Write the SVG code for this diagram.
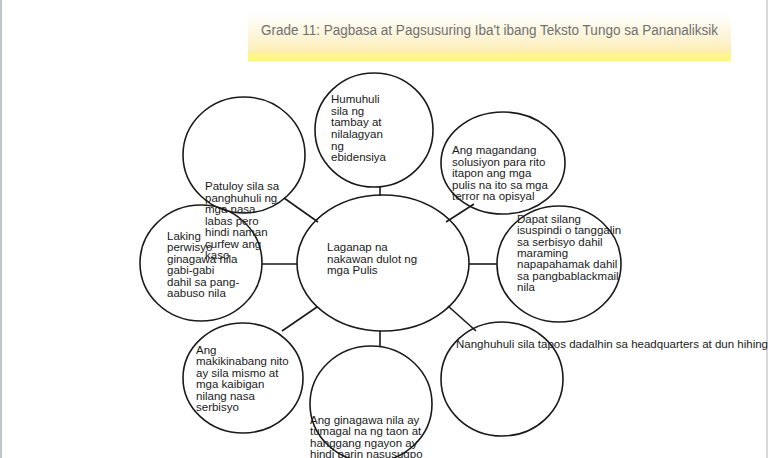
<svg xmlns="http://www.w3.org/2000/svg" width="768" height="458" viewBox="0 0 768 458">
<defs>
<linearGradient id="banner" x1="0" y1="0" x2="0" y2="1">
<stop offset="0" stop-color="#ffffff"/>
<stop offset="0.55" stop-color="#fdf3d2"/>
<stop offset="0.82" stop-color="#fcefb0"/>
<stop offset="0.86" stop-color="#fff68a"/>
<stop offset="1" stop-color="#fff585"/>
</linearGradient>
</defs>
<style>
.c{fill:none;stroke:#1a1a1a;stroke-width:1.6}
.l{stroke:#1a1a1a;stroke-width:1.6;fill:none}
text{font-family:"Liberation Sans",Arial,sans-serif;font-size:11.5px;fill:#1a1a1a}
.t{font-size:14px;fill:#707070}
</style>
<rect width="768" height="458" fill="#ffffff"/>
<line x1="1" y1="0" x2="1" y2="458" stroke="#a8b0b8" stroke-width="1.5"/>
<line x1="767" y1="0" x2="767" y2="458" stroke="#c8ccd0" stroke-width="1.5"/>
<g id="banner-title">
<rect x="248" y="13" width="483" height="48" fill="url(#banner)"/>
<text class="t" x="261" y="35" textLength="457" lengthAdjust="spacingAndGlyphs">Grade 11: Pagbasa at Pagsusuring Iba't ibang Teksto Tungo sa Pananaliksik</text>
</g>
<g id="connectors">
<line class="l" x1="380" y1="187" x2="380" y2="196"/>
<line class="l" x1="380" y1="331" x2="380" y2="346"/>
<line class="l" x1="262" y1="264" x2="297" y2="264"/>
<line class="l" x1="469" y1="264" x2="497" y2="264"/>
<line class="l" x1="284" y1="198" x2="318" y2="222"/>
<line class="l" x1="474" y1="204" x2="446" y2="222"/>
<line class="l" x1="282" y1="331" x2="317" y2="307"/>
<line class="l" x1="448" y1="306" x2="476" y2="331"/>
</g>
<g id="center">
<ellipse class="c" cx="383" cy="263" rx="86" ry="68"/>
<text x="327" y="251">Laganap na</text>
<text x="327" y="263">nakawan dulot ng</text>
<text x="327" y="274">mga Pulis</text>
</g>
<g id="n-top">
<ellipse class="c" cx="374" cy="130" rx="59" ry="57"/>
<text x="331" y="103">Humuhuli</text>
<text x="331" y="115">sila ng</text>
<text x="331" y="126">tambay at</text>
<text x="331" y="138">nilalagyan</text>
<text x="331" y="150">ng</text>
<text x="331" y="161">ebidensiya</text>
</g>
<g id="n-topright">
<ellipse class="c" cx="503" cy="163" rx="62" ry="51"/>
<text x="452" y="154">Ang magandang</text>
<text x="452" y="166">solusiyon para rito</text>
<text x="452" y="177">itapon ang mga</text>
<text x="452" y="189">pulis na ito sa mga</text>
<text x="452" y="200">terror na opisyal</text>
</g>
<g id="n-topleft">
<ellipse class="c" cx="244" cy="155" rx="61" ry="58"/>
<text x="205" y="190">Patuloy sila sa</text>
<text x="205" y="202">panghuhuli ng</text>
<text x="205" y="213">mga nasa</text>
<text x="205" y="225">labas pero</text>
<text x="205" y="236">hindi naman</text>
<text x="205" y="248">curfew ang</text>
<text x="205" y="259">kaso</text>
</g>
<g id="n-left">
<ellipse class="c" cx="201" cy="263" rx="61" ry="58"/>
<text x="167" y="240">Laking</text>
<text x="167" y="251">perwisyo</text>
<text x="167" y="263">ginagawa nila</text>
<text x="167" y="274">gabi-gabi</text>
<text x="167" y="286">dahil sa pang-</text>
<text x="167" y="297">aabuso nila</text>
</g>
<g id="n-right">
<ellipse class="c" cx="559" cy="264" rx="62" ry="58"/>
<text x="517" y="223">Dapat silang</text>
<text x="517" y="234">isuspindi o tanggalin</text>
<text x="517" y="246">sa serbisyo dahil</text>
<text x="517" y="257">maraming</text>
<text x="517" y="268">napapahamak dahil</text>
<text x="517" y="280">sa pangbablackmail</text>
<text x="517" y="291">nila</text>
</g>
<g id="n-bottomleft">
<ellipse class="c" cx="243" cy="378" rx="60" ry="55"/>
<text x="196" y="354">Ang</text>
<text x="196" y="365">makikinabang nito</text>
<text x="196" y="377">ay sila mismo at</text>
<text x="196" y="388">mga kaibigan</text>
<text x="196" y="400">nilang nasa</text>
<text x="196" y="411">serbisyo</text>
</g>
<g id="n-bottom">
<ellipse class="c" cx="371" cy="404" rx="61" ry="58"/>
<text x="310" y="424">Ang ginagawa nila ay</text>
<text x="310" y="435">tumagal na ng taon at</text>
<text x="310" y="447">hanggang ngayon ay</text>
<text x="310" y="458">hindi parin nasusugpo</text>
</g>
<g id="n-bottomright">
<ellipse class="c" cx="502" cy="379" rx="61" ry="57"/>
<text x="456" y="348">Nanghuhuli sila tapos dadalhin sa headquarters at dun hihing</text>
</g>
</svg>
